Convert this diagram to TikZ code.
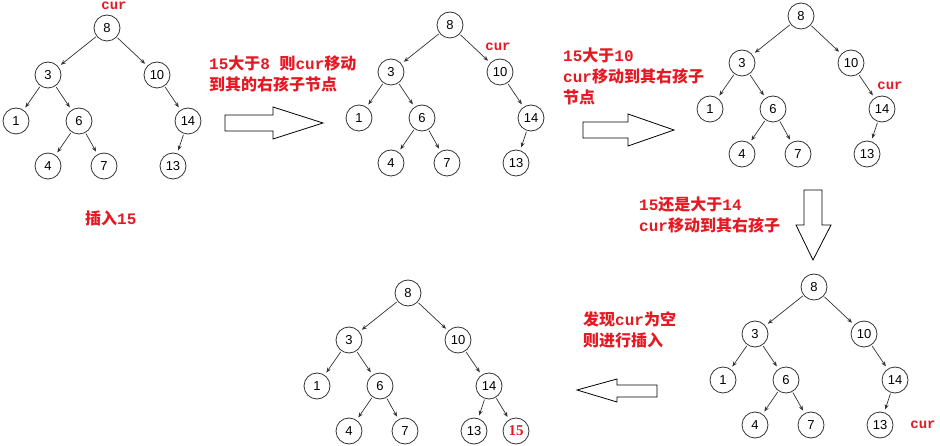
\documentclass[tikz,border=0pt]{standalone}
\usepackage{fontspec}
\setmainfont{Liberation Sans}
\newfontfamily\cjk{Noto Sans CJK SC}
\newfontfamily\latmono{Liberation Mono}
\newfontfamily\latserif{Liberation Serif}
\usepackage{xcolor}
\definecolor{colNote}{RGB}{230,25,35}
\colorlet{colNode}{black!80}
\colorlet{colEdge}{black!80}
\usepackage{tikz}
\usetikzlibrary{arrows.meta}

\newcommand{\enw}[1]{{\latmono #1}}
\newcommand{\bsttree}[3]{%
  \begin{scope}[shift={(#2,#3)}, name prefix=#1-]
    \node[tnode] (n8) at (0,0) {8};
    \node[tnode] (n3) at (-59,47) {3};
    \node[tnode] (n10) at (50,47) {10};
    \node[tnode] (n1) at (-91,93) {1};
    \node[tnode] (n6) at (-28,93) {6};
    \node[tnode] (n14) at (81,93) {14};
    \node[tnode] (n4) at (-59,138) {4};
    \node[tnode] (n7) at (-3,138) {7};
    \node[tnode] (n13) at (66,138) {13};
    \foreach \a/\b in {8/3, 8/10, 3/1, 3/6, 6/4, 6/7, 10/14, 14/13}
      \draw[tedge] (n\a) -- (n\b);
  \end{scope}}

\begin{document}
\begin{tikzpicture}[x=1pt, y=-1pt,
  tnode/.style={circle, draw=colNode, line width=0.8pt, fill=white, minimum size=26pt, inner sep=0pt, font=\fontsize{13}{13}\selectfont},
  tedge/.style={colEdge, line width=0.7pt, -{Stealth[length=5pt, width=4pt]}, shorten <=1pt, shorten >=3pt},
  note/.style={colNote, anchor=west, align=left, inner sep=0pt, font=\cjk\bfseries\fontsize{16}{21}\selectfont},
  curlbl/.style={colNote, inner sep=0pt, font=\latmono\bfseries\fontsize{14}{14}\selectfont},
  bigarrow/.style={draw=black, fill=white, line width=0.8pt, line join=miter}]
\useasboundingbox (0,0) rectangle (940,446);

\bsttree{t1}{107}{28}
\bsttree{t2}{450}{25}
\bsttree{t3}{801}{16}
\bsttree{t4}{814}{287}
\bsttree{t5}{408}{293}
\node[tnode, text=colNote, font=\latserif\bfseries\fontsize{15}{15}\selectfont] (t5-n15) at (516,431) {15};
\draw[tedge] (t5-n14) -- (t5-n15);

\node[curlbl] (cur1) at (114,6) {cur};
\node[curlbl] (cur2) at (498,47) {cur};
\node[curlbl] (cur3) at (890,86) {cur};
\node[curlbl] (cur4) at (923,425) {cur};

\node[note] (note1) at (209,74) {\enw{15}大于\enw{8 }则\enw{cur}移动\\到其的右孩子节点};
\node[note] (note2) at (563,76) {\enw{15}大于\enw{10}\\\enw{cur}移动到其右孩子\\节点};
\node[note] (note3) at (639,215) {\enw{15}还是大于\enw{14}\\\enw{cur}移动到其右孩子};
\node[note] (note4) at (583,330) {发现\enw{cur}为空\\则进行插入};
\node[note] (note5) at (85,218) {插入\enw{15}};

\draw[bigarrow] (225,115) -- (273,115) -- (273,107) -- (323,123) -- (273,139) -- (273,131) -- (225,131) -- cycle;
\draw[bigarrow] (583,122) -- (628,122) -- (628,114) -- (674,130) -- (628,146) -- (628,138) -- (583,138) -- cycle;
\draw[bigarrow] (804,190) -- (822,190) -- (822,225) -- (831,225) -- (813,260) -- (796,225) -- (804,225) -- cycle;
\draw[bigarrow] (657,385) -- (617,385) -- (617,379) -- (577,390) -- (617,402) -- (617,397) -- (657,397) -- cycle;
\end{tikzpicture}
\end{document}
